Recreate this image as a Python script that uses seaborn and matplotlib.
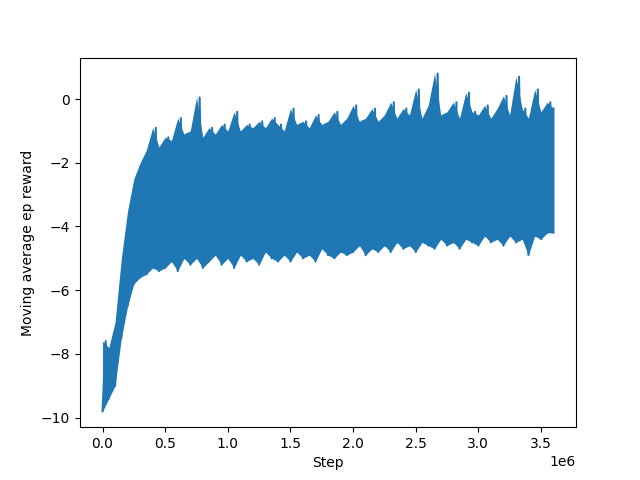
import matplotlib
matplotlib.use("Agg")
import matplotlib.pyplot as plt
import numpy as np
import pandas as pd
import seaborn as sns

# envelope readings every 50k steps (peaks and troughs of the moving average)
peaks = [-7.6, -7.8, -7.0, -5.0, -3.5, -2.5, -2.0, -1.6, -0.9, -1.5,
         -1.2, -1.3, -0.6, -1.1, -1.0, 0.05, -1.2, -0.9, -1.1, -0.8,
         -1.0, -0.4, -1.0, -0.8, -0.9, -0.7, -0.9, -0.6, -0.8, -1.0,
         -0.3, -0.8, -0.7, -0.9, -0.5, -0.8, -0.7, -0.4, -0.8, -0.6,
         -0.2, -0.7, -0.6, -0.3, -0.7, -0.5, -0.1, -0.6, -0.3, -0.5,
         0.3, -0.6, -0.2, 0.8, -0.5, -0.4, -0.1, -0.6, 0.2, -0.4,
         -0.5, -0.2, -0.6, -0.3, 0.1, -0.5, 0.7, -0.3, -0.6, 0.3,
         -0.4, -0.1, -0.3]
troughs = [-9.8, -9.4, -9.0, -7.5, -6.5, -5.8, -5.6, -5.5, -5.3, -5.4,
           -5.3, -5.1, -5.4, -5.0, -5.2, -5.0, -5.3, -5.1, -4.9, -5.2,
           -5.0, -5.3, -4.9, -5.1, -5.0, -5.2, -4.8, -5.0, -5.1, -4.9,
           -5.1, -4.8, -5.0, -4.9, -5.1, -4.7, -4.9, -5.0, -4.8, -4.9,
           -4.8, -4.6, -4.9, -4.7, -4.8, -4.6, -4.8, -4.5, -4.7, -4.6,
           -4.8, -4.5, -4.6, -4.7, -4.4, -4.6, -4.5, -4.7, -4.4, -4.5,
           -4.6, -4.3, -4.5, -4.4, -4.6, -4.3, -4.5, -4.4, -4.9, -4.3,
           -4.4, -4.2, -4.2]

step = 50000
xs, ys = [], []
for i, (p, t) in enumerate(zip(peaks, troughs)):
    xs += [i * step, i * step + step / 2]
    ys += [t, p]
xs = [min(x, 3.6e6) for x in xs]
df = pd.DataFrame({"Step": xs, "reward": ys})

fig, ax = plt.subplots(figsize=(6.4, 4.8), dpi=100)
sns.lineplot(data=df, x="Step", y="reward", ax=ax, estimator=None, sort=False,
             color="#1f77b4", linewidth=1.5)
# dense oscillation fills the band between the envelopes
band_x = [min(i * step, 3.6e6) for i in range(len(peaks))]
ax.fill_between(band_x, troughs, peaks, color="#1f77b4", linewidth=0)
ax.set_xlabel("Step")
ax.set_ylabel("Moving average ep reward")
ax.set_xticks([0, 0.5e6, 1e6, 1.5e6, 2e6, 2.5e6, 3e6, 3.5e6])
ax.set_yticks([-10, -8, -6, -4, -2, 0])
ax.set_ylim(-10.3, 1.3)
fig.savefig("out.png")
